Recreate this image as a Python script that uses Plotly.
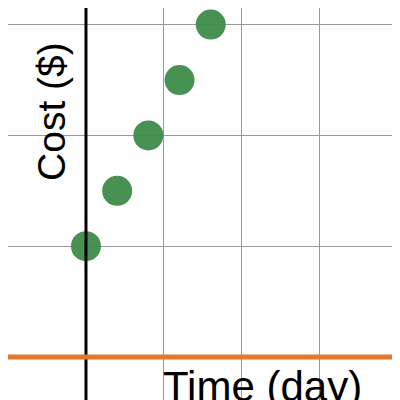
import plotly.graph_objects as go

days = [0, 0.4, 0.8, 1.2, 1.6]
cost = [1, 1.5, 2, 2.5, 3]
x_label = "Time (day)"
y_label = "Cost ($)"

fig = go.Figure()
fig.add_trace(go.Scatter(x=days, y=cost, mode="markers",
                         marker=dict(size=30, color="#3d8c4a", opacity=0.95), showlegend=False))
fig.add_shape(type="line", x0=0, x1=0, y0=-1, y1=4, xref="x", yref="y",
              line=dict(color="black", width=3))
fig.add_shape(type="line", x0=-2, x1=5, y0=0, y1=0, xref="x", yref="y",
              line=dict(color="#e3782e", width=5))
fig.add_annotation(x=-0.45, y=2.22, xref="x", yref="y", text=y_label, textangle=-90,
                   showarrow=False, font=dict(size=39, color="black", family="Liberation Sans"))
fig.add_annotation(x=2.26, y=-0.27, xref="x", yref="y", text=x_label,
                   showarrow=False, font=dict(size=42, color="black", family="Liberation Sans"))
fig.update_xaxes(range=[-1.0, 4.13], dtick=1, tick0=0, showgrid=True, gridcolor="#999",
                 gridwidth=1, zeroline=False, showticklabels=False, ticks="")
fig.update_yaxes(range=[-0.46, 3.15], dtick=1, tick0=0, showgrid=True, gridcolor="#999",
                 gridwidth=1, zeroline=False, showticklabels=False, ticks="")
fig.update_layout(width=400, height=400, margin=dict(l=0, r=0, t=0, b=0),
                  plot_bgcolor="white", paper_bgcolor="white")
fig.write_html("out.html")
